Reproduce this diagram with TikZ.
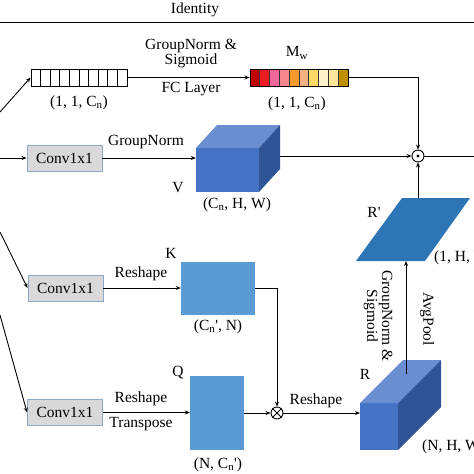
\documentclass[tikz,border=0pt]{standalone}
\usepackage{fontspec}
\setmainfont{Liberation Serif}
\usetikzlibrary{arrows.meta,calc}
\definecolor{convfill}{HTML}{D9D9D9}
\definecolor{convdraw}{HTML}{8EA9C8}
\definecolor{cubefront}{HTML}{4472C4}
\definecolor{cubetop}{HTML}{6A8ED0}
\definecolor{cubeside}{HTML}{2F5597}
\definecolor{matblue}{HTML}{5B9BD5}
\definecolor{planeblue}{HTML}{2E75B6}
\begin{document}
\begin{tikzpicture}[x=1pt,y=-1pt,font=\fontsize{15.5}{17}\selectfont,
  conv/.style={draw=convdraw,fill=convfill,line width=0.9pt,minimum width=75pt,minimum height=26pt,inner sep=0pt},
  arr/.style={-{Stealth[length=5pt,width=4pt]},line width=0.9pt},
  ln/.style={line width=0.9pt},
  lbl/.style={inner sep=1pt},
  opnode/.style={circle,draw,line width=0.9pt,minimum size=12pt,inner sep=0pt},
  matbox/.style={fill=matblue,inner sep=0pt},
  barbox/.style={draw,line width=0.9pt,inner sep=0pt,minimum height=17pt}]
\useasboundingbox (0,0) rectangle (474,474);
\clip (0,0) rectangle (474,474);
% identity
\node[lbl] (idt) at (195,10) {Identity};
\coordinate (idl) at (0,22);
\coordinate (idr) at (474,22);
\draw[ln] (idl) -- (idr);
% white vector
\foreach \i in {0,...,9} \draw[line width=0.9pt] (31+9.6*\i,69) rectangle ++(9.6,17);
\node[barbox,minimum width=96pt] (wb) at (79,77.5) {};
\node[lbl] (wbl) at (79,103) {(1, 1, C\textsubscript{n})};
\coordinate (in0) at (0,112);
\draw[arr] (in0) -- (wb.west);
% Mw vector
\foreach \c [count=\i from 0] in {C00000,EC1C24,F0679A,F7868F,F79A2E,F4B183,FFD966,FFF2CC,FFE699,BF9000}{
  \definecolor{cellc}{HTML}{\c}
  \filldraw[fill=cellc,draw=black!80,line width=0.9pt] (250+9.8*\i,69) rectangle ++(9.8,17);}
\node[barbox,minimum width=98pt] (mw) at (299,77.5) {};
\node[lbl] (mwt) at (297,53) {M\textsubscript{w}};
\node[lbl] (mwl) at (297,104) {(1, 1, C\textsubscript{n})};
\draw[arr] (wb.east) -- (mw.west);
\node[lbl,align=center] (gn1) at (191,54) {GroupNorm \&\\[-2pt]Sigmoid};
\node[lbl] (fc) at (191,89) {FC Layer};
% odot
\node[opnode] (odot) at (418,156) {};
\fill (odot.center) circle (1.6pt);
\draw[arr] (mw.east) -| (odot.north);
\coordinate (outr) at (474,156);
\draw[ln] (odot.east) -- (outr);
% V branch
\coordinate (in1) at (0,158);
\node[conv] (c1) at (64.5,158) {Conv1x1};
\draw[arr] (in1) -- (c1.west);
\fill[cubefront] (196,148) rectangle (259,192);
\fill[cubetop] (196,148) -- (217,125) -- (280,125) -- (259,148) -- cycle;
\fill[cubeside] (259,148) -- (280,125) -- (280,169) -- (259,192) -- cycle;
\node[minimum width=63pt,minimum height=44pt,inner sep=0pt] (vf) at (227.5,170) {};
\draw[arr] (c1.east) -- (c1.east -| vf.west);
\node[lbl] (gn2) at (146,142) {GroupNorm};
\node[lbl] (vl) at (178,188) {V};
\node[lbl] (vdim) at (237,205) {(C\textsubscript{n}, H, W)};
\coordinate (vr) at (280,156);
\draw[arr] (vr) -- (odot.west);
% R'
\fill[planeblue] (402,198) -- (470,198) -- (425,261) -- (356,261) -- cycle;
\coordinate (rpt) at (418,198);
\coordinate (rpb) at (406,261);
\draw[arr] (rpt) -- (odot.south);
\node[lbl] (rpl) at (374,212) {R\textquotesingle};
\node[lbl,anchor=west] (rpdim) at (433,258) {(1, H, W)};
% K branch
\coordinate (in2) at (0,232);
\node[conv] (c2) at (65.5,288) {Conv1x1};
\draw[arr] (in2) -- (c2.west);
\node[matbox,minimum width=74pt,minimum height=53pt] (kb) at (218,288.5) {};
\draw[arr] (c2.east) -- (c2.east -| kb.west);
\node[lbl] (rs1) at (141,274) {Reshape};
\node[lbl] (kl) at (171,253) {K};
\node[lbl] (kdim) at (218,327) {(C\textsubscript{n}\textquotesingle, N)};
% Q branch
\coordinate (in3) at (0,315);
\node[conv] (c3) at (65,412.5) {Conv1x1};
\draw[arr] (in3) -- (c3.west);
\node[matbox,minimum width=54pt,minimum height=74pt] (qb) at (217,413) {};
\draw[arr] (c3.east) -- (c3.east -| qb.west);
\node[lbl] (rs2) at (141,399) {Reshape};
\node[lbl] (tp) at (141,424) {Transpose};
\node[lbl] (ql) at (178,373) {Q};
\node[lbl] (qdim) at (218,465) {(N, C\textsubscript{n}\textquotesingle)};
% otimes
\node[opnode] (otimes) at (277,413) {};
\draw[line width=0.9pt] (otimes.north east) -- (otimes.south west) (otimes.north west) -- (otimes.south east);
\draw[arr] (kb.east) -| (otimes.north);
\draw[arr] (qb.east) -- (otimes.west);
% R cube
\fill[cubefront] (360,403) rectangle (398,450);
\fill[cubetop] (360,403) -- (403,360) -- (441,360) -- (398,403) -- cycle;
\fill[cubeside] (398,403) -- (441,360) -- (441,407) -- (398,450) -- cycle;
\coordinate (rfl) at (360,413);
\draw[arr] (otimes.east) -- (rfl);
\node[lbl] (rs3) at (316,401) {Reshape};
\node[lbl] (rl) at (365,374) {R};
\node[lbl,anchor=west] (rdim) at (421,447) {(N, H, W)};
\coordinate (rtop) at (406,374);
\draw[arr] (rtop) -- (rpb);
\node[lbl,rotate=-90] (avg) at (427,319) {AvgPool};
\node[lbl,rotate=-90,align=center] (gn3) at (378,316) {GroupNorm \&\\[-2pt]Sigmoid};
\end{tikzpicture}
\end{document}
